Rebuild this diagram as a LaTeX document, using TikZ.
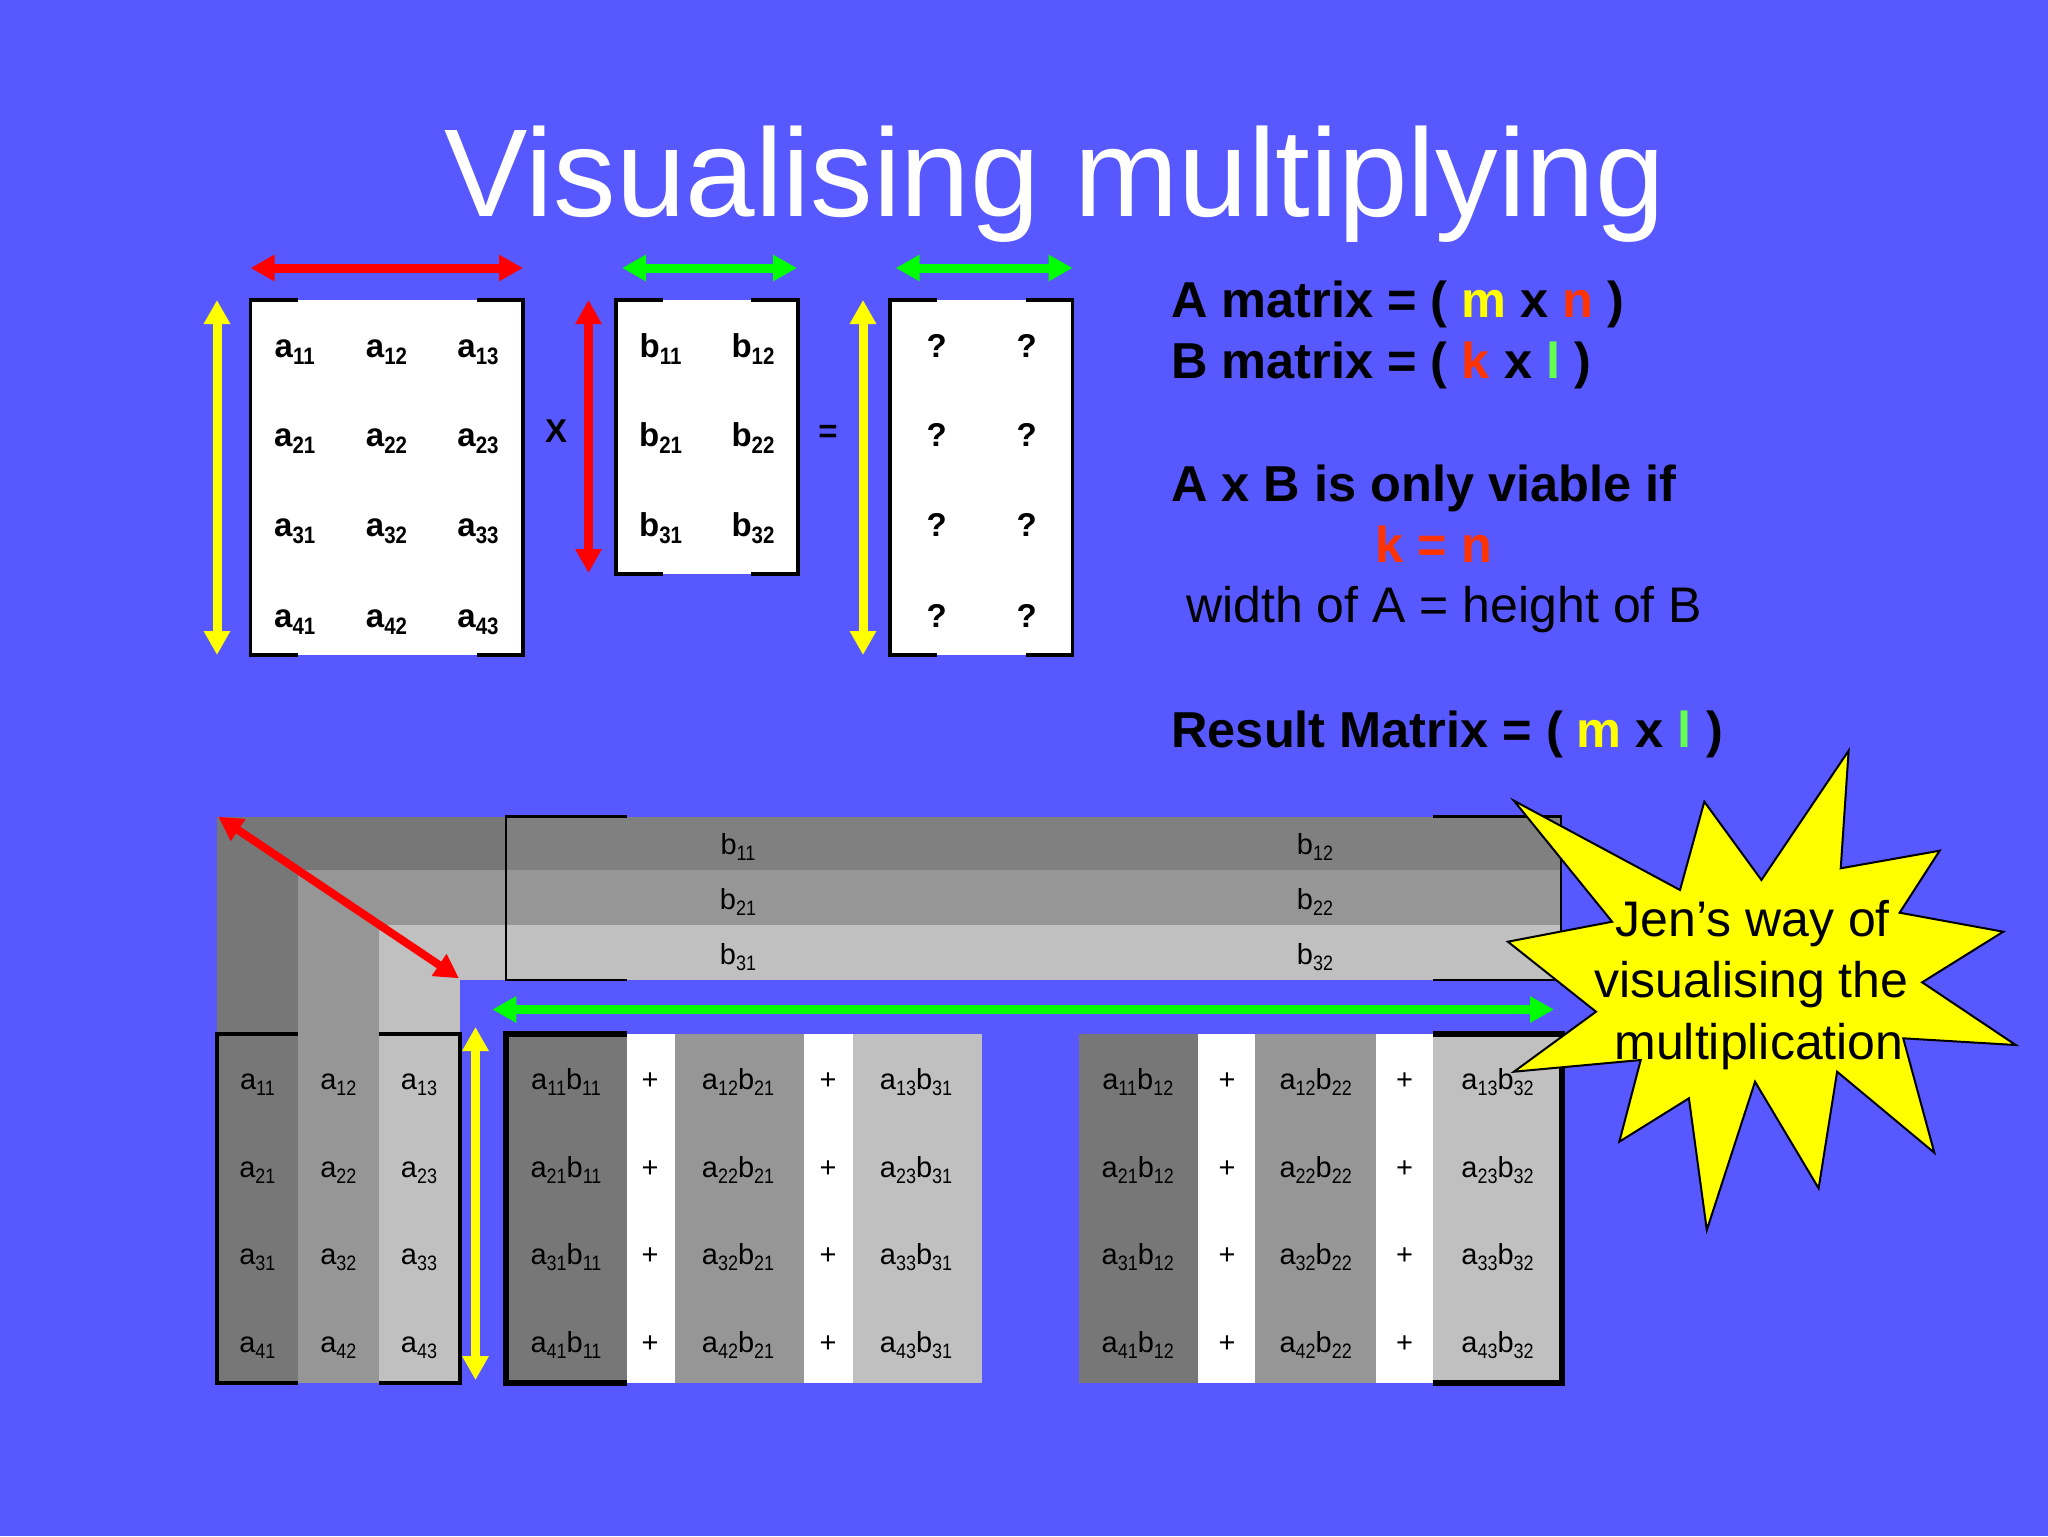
\documentclass[tikz,border=0pt]{standalone}
\usepackage{fontspec}
\usepackage{graphicx}
\setmainfont{Liberation Sans}
\usetikzlibrary{arrows.meta}
\definecolor{bg}{RGB}{88,88,255}
\definecolor{dgray}{RGB}{119,119,119}
\definecolor{dgrayb}{RGB}{128,128,128}
\definecolor{mgray}{RGB}{150,150,150}
\definecolor{lgray}{RGB}{192,192,192}
\definecolor{aryellow}{RGB}{255,255,0}
\definecolor{argreen}{RGB}{0,255,0}
\definecolor{arred}{RGB}{255,0,0}
\definecolor{txtred}{RGB}{255,51,0}
\definecolor{txtgreen}{RGB}{100,255,80}
\newcommand\sbs[1]{\raisebox{-0.24em}{\scalebox{0.62}[0.72]{#1}}}
\begin{document}
\begin{tikzpicture}[x=0.5pt,y=-0.5pt,
  dbl/.style={line width=4.5pt,arrows={Triangle[length=12pt,width=12.5pt]-Triangle[length=12pt,width=12.5pt]}},
  topent/.style={anchor=base,inner sep=0pt,font=\fontsize{16.5}{20}\selectfont\bfseries},
  botent/.style={anchor=base,inner sep=0pt,font=\fontsize{14.5}{17}\selectfont},
  bigtxt/.style={anchor=base west,inner sep=0pt,font=\fontsize{25.25}{30}\selectfont\bfseries},
  startxt/.style={anchor=base,inner sep=0pt,font=\fontsize{25}{30}\selectfont},
  brk/.style={line width=1.75pt,line join=miter},
  brkthin/.style={line width=1.4pt,line join=miter},
  brkthick/.style={line width=3pt,line join=miter}]
\fill[bg] (0,0) rectangle (2048,1536);
\useasboundingbox (0,0) rectangle (2048,1536);

% title
\node[anchor=base,inner sep=0pt,text=white,font=\fontsize{62.5}{75}\selectfont] (title) at (1055,216.7) {Visualising multiplying};

% ---------- top matrices ----------
\fill[white] (250.5,300) rectangle (523,655);
\draw[brk] (297.5,300) -- (250.5,300) -- (250.5,655) -- (297.5,655);
\draw[brk] (476.5,300) -- (523,300) -- (523,655) -- (476.5,655);
\fill[white] (616,300) rectangle (798,574);
\draw[brk] (663,300) -- (616,300) -- (616,574) -- (663,574);
\draw[brk] (751,300) -- (798,300) -- (798,574) -- (751,574);
\fill[white] (890,300) rectangle (1072.6,655);
\draw[brk] (937,300) -- (890,300) -- (890,655) -- (937,655);
\draw[brk] (1025.6,300) -- (1072.6,300) -- (1072.6,655) -- (1025.6,655);

\foreach \r/\y in {1/357,2/446,3/536,4/627}{
  \foreach \c/\x in {1/294.7,2/386.5,3/478}{
    \node[topent] (ta\r\c) at (\x,\y) {a\sbs{\r\c}};
  }
  \foreach \c/\x in {1/936.6,2/1026.7}{
    \node[topent] (tq\r\c) at (\x,\y) {?};
  }
}
\foreach \r/\y in {1/357,2/446,3/536}{
  \foreach \c/\x in {1/660.6,2/753}{
    \node[topent] (tb\r\c) at (\x,\y) {b\sbs{\r\c}};
  }
}
\node[topent] (times) at (556,442) {X};
\node[topent] (equals) at (828,442) {=};

% top arrows
\coordinate (ah1) at (250.5,268); \coordinate (ah2) at (523,268);
\coordinate (bh1) at (622,268); \coordinate (bh2) at (797,268);
\coordinate (ch1) at (895.7,268); \coordinate (ch2) at (1072.6,268);
\coordinate (av1) at (217,300); \coordinate (av2) at (217,655);
\coordinate (bv1) at (588.5,300); \coordinate (bv2) at (588.5,573);
\coordinate (cv1) at (863,300); \coordinate (cv2) at (863,655);
\draw[dbl,arred] (ah1) -- (ah2);
\draw[dbl,argreen] (bh1) -- (bh2);
\draw[dbl,argreen] (ch1) -- (ch2);
\draw[dbl,aryellow] (av1) -- (av2);
\draw[dbl,arred] (bv1) -- (bv2);
\draw[dbl,aryellow] (cv1) -- (cv2);

% right text
\node[bigtxt] (l1) at (1171,317) {A matrix = ( \textcolor{aryellow}{m} x \textcolor{txtred}{n} )};
\node[bigtxt] (l2) at (1171,378) {B matrix = ( \textcolor{txtred}{k} x \textcolor{txtgreen}{l} )};
\node[bigtxt] (l3) at (1171,501) {A x B is only viable if};
\node[anchor=base,inner sep=0pt,font=\fontsize{25.25}{30}\selectfont\bfseries,text=txtred] (l4) at (1434,562) {k = n};
\node[anchor=base west,inner sep=0pt,font=\fontsize{25}{30}\selectfont] (l5) at (1186,622) {width of A = height of B};
\node[bigtxt] (l6) at (1171,747) {Result Matrix = ( \textcolor{aryellow}{m} x \textcolor{txtgreen}{l} )};

% ---------- bottom ----------
% gray L bands
\fill[dgray] (217,816.7) rectangle (506,870);
\fill[dgrayb] (506,816.7) rectangle (1561,870);
\fill[dgray] (217,816.7) rectangle (298.3,1383);
\fill[mgray] (298.3,870) rectangle (1561,925);
\fill[mgray] (298.3,870) rectangle (379,1383);
\fill[lgray] (379,925) rectangle (1561,980);
\fill[lgray] (379,925) rectangle (460,1383);
% A bracket (bottom)
\draw[brk] (298.3,1034) -- (217,1034) -- (217,1383) -- (298.3,1383);
\draw[brk] (379,1034) -- (460,1034) -- (460,1383) -- (379,1383);
% B band bracket
\draw[brkthin] (626.7,816.7) -- (506,816.7) -- (506,980) -- (626.7,980);
\draw[brkthin] (1432.6,816.7) -- (1561,816.7) -- (1561,980) -- (1432.6,980);

% product matrix 1
\fill[dgray] (505.5,1034) rectangle (626.5,1383);
\fill[white] (626.5,1034) rectangle (675.3,1383);
\fill[mgray] (675.3,1034) rectangle (804,1383);
\fill[white] (804,1034) rectangle (852.7,1383);
\fill[lgray] (852.7,1034) rectangle (982,1383);
\draw[brkthick] (626.5,1034) -- (505.5,1034) -- (505.5,1383) -- (626.5,1383);
% product matrix 2
\fill[dgray] (1078.5,1034) rectangle (1198.2,1383);
\fill[white] (1198.2,1034) rectangle (1255.3,1383);
\fill[mgray] (1255.3,1034) rectangle (1376.2,1383);
\fill[white] (1376.2,1034) rectangle (1433.2,1383);
\fill[lgray] (1433.2,1034) rectangle (1561,1383);
\draw[brkthick] (1433.2,1034) -- (1562,1034) -- (1562,1383) -- (1433.2,1383);

% bottom texts
\foreach \r/\y in {1/854,2/909,3/964}{
  \node[botent] (bb\r1) at (738,\y) {b\sbs{\r1}};
  \node[botent] (bb\r2) at (1315,\y) {b\sbs{\r2}};
}
\foreach \r/\y in {1/1089,2/1177,3/1264,4/1352}{
  \foreach \c/\x in {1/257.4,2/338.4,3/419}{
    \node[botent] (ba\r\c) at (\x,\y) {a\sbs{\r\c}};
  }
  \node[botent] (p\r a) at (566,\y) {a\sbs{\r1}b\sbs{11}};
  \node[botent] (p\r b) at (650,\y) {+};
  \node[botent] (p\r c) at (738,\y) {a\sbs{\r2}b\sbs{21}};
  \node[botent] (p\r d) at (828,\y) {+};
  \node[botent] (p\r e) at (916,\y) {a\sbs{\r3}b\sbs{31}};
  \node[botent] (q\r a) at (1137.8,\y) {a\sbs{\r1}b\sbs{12}};
  \node[botent] (q\r b) at (1227,\y) {+};
  \node[botent] (q\r c) at (1315.7,\y) {a\sbs{\r2}b\sbs{22}};
  \node[botent] (q\r d) at (1404.5,\y) {+};
  \node[botent] (q\r e) at (1497.5,\y) {a\sbs{\r3}b\sbs{32}};
}

% bottom arrows
\coordinate (dg1) at (218.3,816.7); \coordinate (dg2) at (459,978.3);
\coordinate (gh1) at (492.3,1009.5); \coordinate (gh2) at (1554,1009.5);
\coordinate (yv1) at (475.5,1027); \coordinate (yv2) at (475.5,1380);
\draw[dbl,arred,line width=4pt] (dg1) -- (dg2);
\draw[dbl,argreen] (gh1) -- (gh2);
\draw[dbl,aryellow] (yv1) -- (yv2);

% star
\draw[fill=aryellow,line width=1pt,line join=miter]
  (1513.9,800.7) -- (1680,890) -- (1704.3,801.7) -- (1761.4,880) -- (1848.6,750.7)
  -- (1840.7,868.3) -- (1939.6,850.7) -- (1899.6,912.7) -- (2003.2,931.7)
  -- (1922.1,982.3) -- (2015.7,1045) -- (1903.2,1038.3) -- (1934.3,1152.7)
  -- (1837.1,1071.7) -- (1818.6,1188.3) -- (1755,1081.7) -- (1706.8,1230)
  -- (1688.9,1098.3) -- (1619.3,1141.7) -- (1640.7,1060) -- (1513.9,1071.7)
  -- (1596,1011.7) -- (1507.9,941.7) -- (1612.1,921.7) -- cycle;
\node[startxt] (s1) at (1752.7,936) {Jen’s way of};
\node[startxt] (s2) at (1751.5,997) {visualising the};
\node[startxt] (s3) at (1759,1059) {multiplication};
\end{tikzpicture}
\end{document}
